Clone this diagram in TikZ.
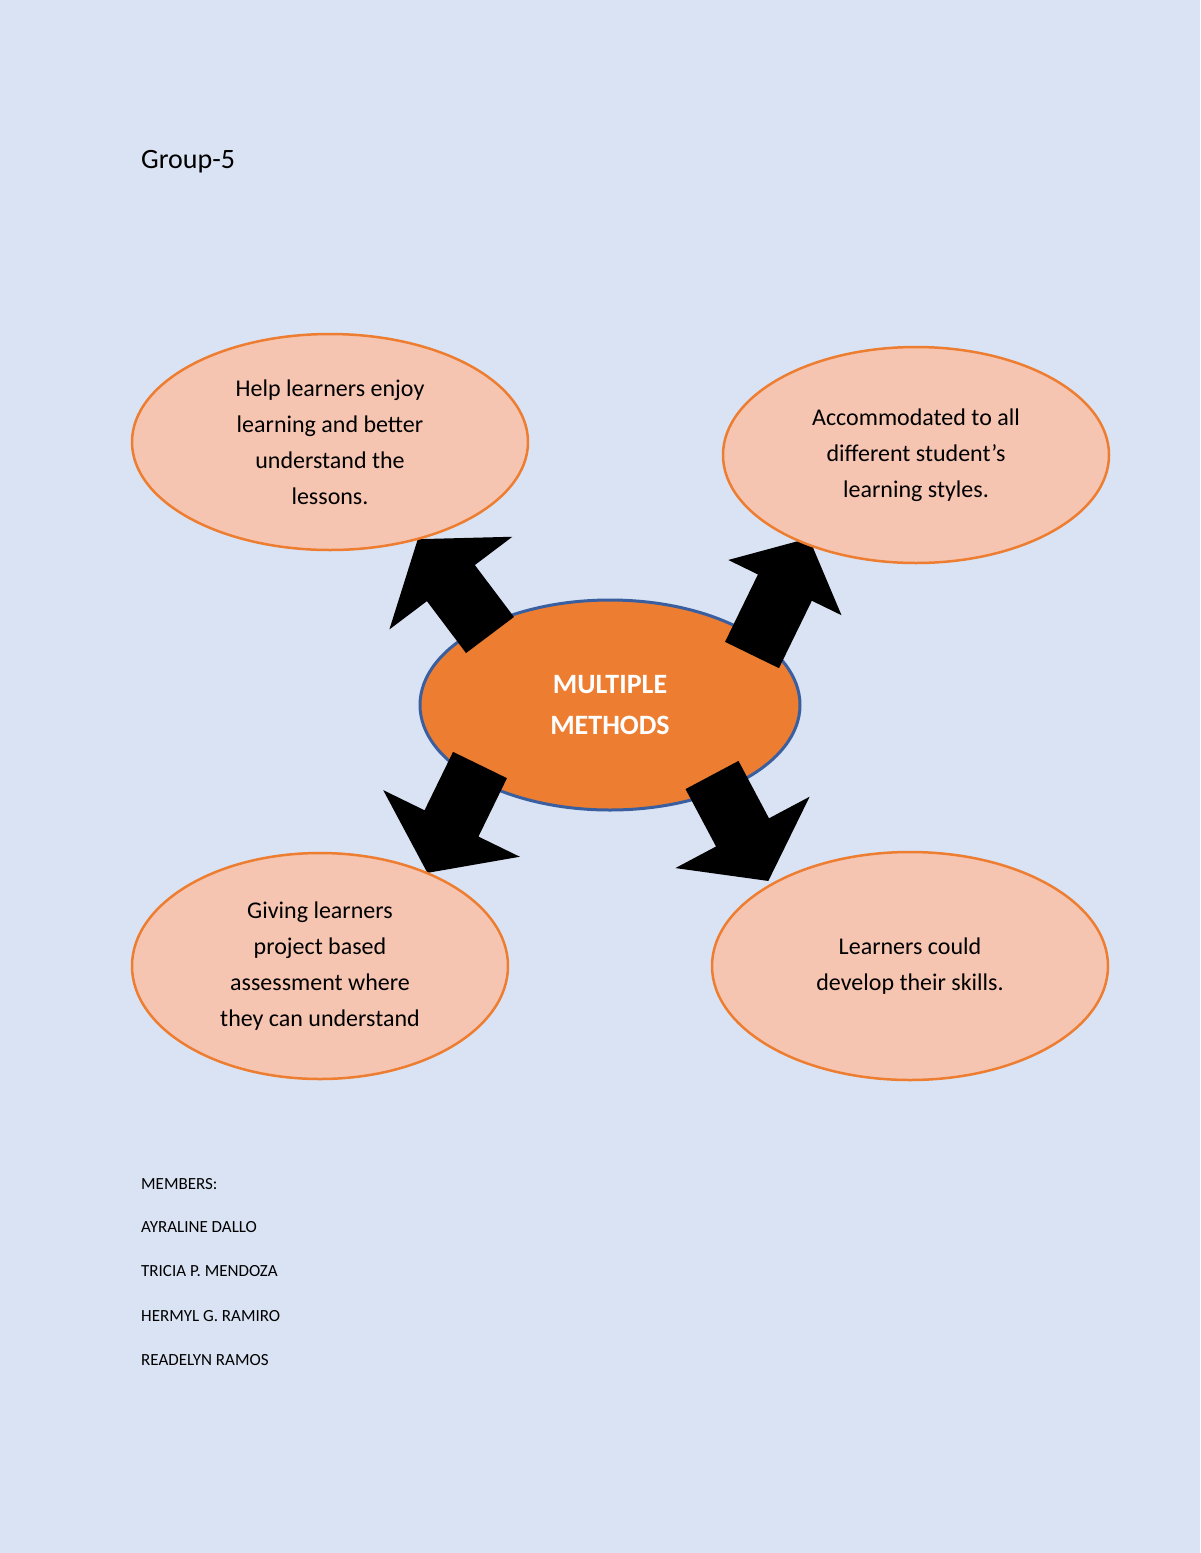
\documentclass[tikz,border=0pt]{standalone}
\usepackage{fontspec}
\setmainfont{Carlito}
\definecolor{bg}{HTML}{DAE3F3}
\definecolor{peach}{HTML}{F6C5B1}
\definecolor{orng}{HTML}{ED7D31}
\definecolor{blu}{HTML}{3A5FA0}
\tikzset{
 outer/.style={ellipse,draw=orng,line width=2.5pt,fill=peach,align=center,font=\fontsize{24}{36}\selectfont,inner sep=0pt},
 blockarrow/.style={fill=black},
 memb/.style={anchor=west,font=\fontsize{17}{20}\selectfont,inner sep=0pt}
}
\usetikzlibrary{shapes.geometric}
\newcommand{\barrow}[5]{% tail x,y, angle, length, headhalf
 \fill[blockarrow,shift={(#1,#2)},rotate=#3] (0,-30) -- (#4-55,-30) -- (#4-55,-#5) -- (#4,0) -- (#4-55,#5) -- (#4-55,30) -- (0,30) -- cycle;}
\begin{document}
\begin{tikzpicture}[x=1pt,y=-1pt]
\fill[bg] (0,0) rectangle (1200,1553);
\useasboundingbox (0,0) rectangle (1200,1553);
\node[anchor=west,font=\fontsize{28}{32}\selectfont,inner sep=0pt] (g) at (141,162) {Group-5};
\node[ellipse,draw=blu,line width=3pt,fill=orng,minimum width=380pt,minimum height=210pt,text=white,font=\bfseries\fontsize{28}{41}\selectfont,align=center] (c) at (610,705) {MULTIPLE\\METHODS};
\barrow{490}{635}{127}{120}{77}
\barrow{752}{655}{64}{130}{63}
\barrow{480}{765}{-116}{120}{76}
\barrow{712}{775}{-62}{120}{76}
\node[outer,minimum width=396pt,minimum height=216pt] (tl) at (330,442) {Help learners enjoy\\learning and better\\understand the\\lessons.};
\node[outer,minimum width=386pt,minimum height=216pt] (tr) at (916,455) {Accommodated to all\\different student's\\learning styles.};
\node[outer,minimum width=376pt,minimum height=226pt] (bl) at (320,966) {Giving learners\\project based\\assessment where\\they can understand};
\node[outer,minimum width=396pt,minimum height=228pt] (br) at (910,966) {Learners could\\develop their skills.};
\node[memb] (m0) at (141,1184) {MEMBERS:};
\node[memb] (m1) at (141,1227) {AYRALINE DALLO};
\node[memb] (m2) at (141,1271) {TRICIA P. MENDOZA};
\node[memb] (m3) at (141,1316) {HERMYL G. RAMIRO};
\node[memb] (m4) at (141,1360) {READELYN RAMOS};
\end{tikzpicture}
\end{document}
